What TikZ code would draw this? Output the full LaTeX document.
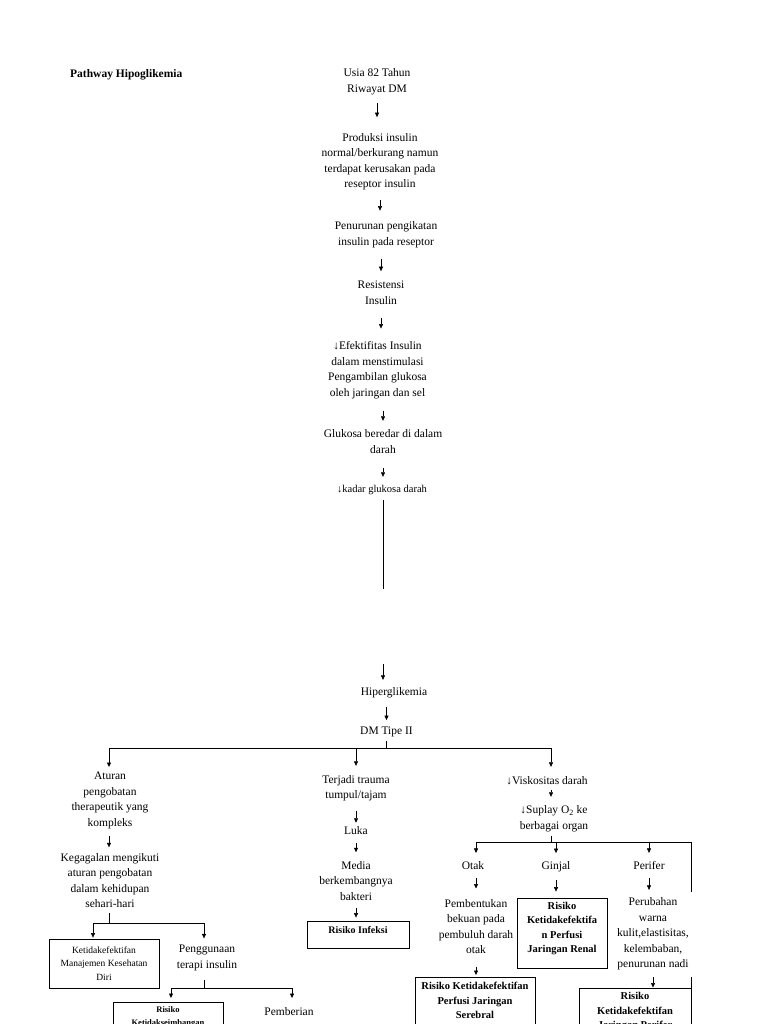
\documentclass[tikz,border=0pt]{standalone}
\usepackage{fontspec}
\setmainfont{Liberation Serif}
\usetikzlibrary{arrows.meta}
\tikzset{
  txt/.style={align=center, inner sep=0pt, font=\fontsize{11.5}{15.5}\selectfont},
  arr/.style={-{Triangle[length=4.5pt,width=4pt]}, line width=0.5pt},
  ln/.style={line width=0.8pt},
  boxn/.style={draw, line width=0.8pt, align=center, inner xsep=0pt},
  bsmall/.style={font=\fontsize{10.5}{14.5}\selectfont\bfseries},
}
\begin{document}
\begin{tikzpicture}[x=1pt,y=-1pt]
\path[use as bounding box, fill=white] (0,0) rectangle (768,1024);
\clip (0,0) rectangle (768,1024);

% ---------- title ----------
\node[txt, anchor=west, font=\fontsize{11.5}{15.5}\selectfont\bfseries] (title) at (70,75) {Pathway Hipoglikemia};

% ---------- main chain ----------
\node[txt] (usia) at (377,82) {Usia 82 Tahun\\Riwayat DM};
\node[txt] (prod) at (380,161.5) {Produksi insulin\\normal/berkurang namun\\terdapat kerusakan pada\\reseptor insulin};
\node[txt] (pen) at (386,234.5) {Penurunan pengikatan\\insulin pada reseptor};
\node[txt] (resist) at (381,292.7) {Resistensi\\Insulin};
\node[txt] (efek) at (377.5,370) {↓Efektifitas Insulin\\dalam menstimulasi\\Pengambilan glukosa\\oleh jaringan dan sel};
\node[txt] (gluk) at (383,441.5) {Glukosa beredar di dalam\\darah};
\node[txt, font=\fontsize{10.5}{14}\selectfont] (kadar) at (382,490) {↓kadar glukosa darah};
\node[txt] (hiper) at (394,693) {Hiperglikemia};
\node[txt] (dm) at (386.5,732) {DM Tipe II};

\coordinate (lineend) at (383,589);
\coordinate (arrstart) at (383,664);
\coordinate (s1) at (387,748);
\coordinate (hL) at (109,748);
\coordinate (hR) at (551,748);

% ---------- left column ----------
\node[txt] (aturan) at (110,800.5) {Aturan\\pengobatan\\therapeutik yang\\kompleks};
\node[txt] (kegagalan) at (110,880.5) {Kegagalan mengikuti\\aturan pengobatan\\dalam kehidupan\\sehari-hari};
\node[boxn, minimum width=110pt, minimum height=49pt, font=\fontsize{9.5}{13.5}\selectfont] (ketbox) at (104,963.5) {Ketidakefektifan\\Manajemen Kesehatan\\Diri};
\node[txt] (peng) at (207,958) {Penggunaan\\terapi insulin};
\node[boxn, anchor=north, minimum width=110pt, inner ysep=4pt, text depth=40pt, font=\fontsize{8.5}{13}\selectfont\bfseries] (rkbox) at (168,1002) {Risiko\\Ketidakseimbangan};
\node[txt] (pemberian) at (289,1012) {Pemberian};

\coordinate (s3) at (109,923);
\coordinate (kL) at (93,923);
\coordinate (kR) at (204,923);
\coordinate (s4) at (204,988);
\coordinate (pL) at (171,988);
\coordinate (pR) at (292,988);

% ---------- middle column ----------
\node[txt] (terjadi) at (356,788) {Terjadi trauma\\tumpul/tajam};
\node[txt] (luka) at (356,830.7) {Luka};
\node[txt] (media) at (356,880.7) {Media\\berkembangnya\\bakteri};
\node[boxn, minimum width=102pt, minimum height=27pt, text depth=10pt, font=\fontsize{10}{13}\selectfont\bfseries] (infeksi) at (358,934.5) {Risiko Infeksi};

% ---------- right column ----------
\node[txt] (visk) at (547,780.7) {↓Viskositas darah};
\node[txt] (suplay) at (554,818.5) {↓Suplay O\textsubscript{2} ke\\berbagai organ};
\coordinate (s2) at (551,842);
\coordinate (oL) at (476,842);
\coordinate (gC) at (556,842);
\coordinate (pC) at (649,842);
\coordinate (oR) at (691,842);
\coordinate (oRd) at (691,892);
\node[txt] (otak) at (473,865.7) {Otak};
\node[txt] (ginjal) at (556,867) {Ginjal};
\node[txt] (perifer) at (649,865.7) {Perifer};
\node[txt] (pemb) at (476,926.7) {Pembentukan\\bekuan pada\\pembuluh darah\\otak};
\node[boxn, bsmall, minimum width=90pt, minimum height=70pt, text depth=11pt] (renal) at (562,933) {Risiko\\Ketidakefektifa\\n Perfusi\\Jaringan Renal};
\node[txt] (perubahan) at (653,934) {Perubahan\\warna\\kulit,elastisitas,\\kelembaban,\\penurunan nadi};
\node[boxn, bsmall, anchor=north, minimum width=120pt, inner ysep=5pt, text depth=30pt] (sereb) at (475,977) {Risiko Ketidakefektifan\\Perfusi Jaringan\\Serebral};
\node[boxn, bsmall, anchor=north, minimum width=112pt, inner ysep=4.2pt, text depth=30pt] (perbox) at (635,988) {Risiko\\Ketidakefektifan\\Jaringan Perifer};

% ---------- connectors: main chain ----------
\draw[arr, shorten <=8pt, shorten >=15.7pt] (usia.south) -- (usia.south |- prod.north);
\draw[arr, shorten <=10pt, shorten >=10.7pt] (prod.south) -- (prod.south |- pen.north);
\draw[arr, shorten <=11pt, shorten >=9.7pt] (pen.south -| resist.north) -- (resist.north);
\draw[arr, shorten <=13.4pt, shorten >=12.7pt] (resist.south) -- (resist.south |- efek.north);
\draw[arr, shorten <=12pt, shorten >=8.7pt] (efek.south -| gluk.north) -- (gluk.north);
\draw[arr, shorten <=15pt, shorten >=8.2pt] (gluk.south) -- (gluk.south |- kadar.north);
\draw[ln, shorten <=5pt] (kadar.south -| lineend) -- (lineend);
\draw[arr, shorten >=7.7pt] (arrstart) -- (arrstart |- hiper.north);
\draw[arr, shorten <=9pt, shorten >=6.7pt] (hiper.south -| dm.north) -- (dm.north);
\draw[ln, shorten <=4pt] (dm.south) -- (dm.south |- s1);
\draw[ln] (hL) -- (hR);
\draw[arr, shorten >=5pt] (hL) -- (hL |- aturan.north);
\draw[arr, shorten >=9pt] (hL -| terjadi.north) -- (terjadi.north);
\draw[arr, shorten >=9.5pt] (hR) -- (hR |- visk.north);

% ---------- connectors: left ----------
\draw[arr, shorten <=7pt, shorten >=5.7pt] (aturan.south -| hL) -- (hL |- kegagalan.north);
\draw[ln, shorten <=5.4pt] (kegagalan.south -| s3) -- (s3);
\draw[ln] (kL) -- (kR);
\draw[arr, shorten >=1pt] (kL) -- (kL |- ketbox.north);
\draw[arr, shorten >=6.7pt] (kR) -- (kR |- peng.north);
\draw[ln, shorten <=9pt] (peng.south -| s4) -- (s4);
\draw[ln] (pL) -- (pR);
\draw[arr, shorten >=4pt] (pL) -- (pL |- rkbox.north);
\draw[arr, shorten >=9.7pt] (pR) -- (pR |- pemberian.north);

% ---------- connectors: middle ----------
\draw[arr, shorten <=9.4pt, shorten >=3.7pt] (terjadi.south) -- (terjadi.south |- luka.north);
\draw[arr, shorten <=8.4pt, shorten >=8.7pt] (luka.south) -- (luka.south |- media.north);
\draw[arr, shorten <=7.4pt, shorten >=3pt] (media.south) -- (media.south |- infeksi.north);

% ---------- connectors: right ----------
\draw[arr, shorten <=4.5pt, shorten >=8.5pt] (visk.south -| s2) -- (s2 |- suplay.north);
\draw[ln, shorten <=4pt] (suplay.south -| s2) -- (s2);
\draw[ln] (oL) -- (oR) -- (oRd);
\draw[arr, shorten >=8.5pt] (oL) -- (oL |- otak.north);
\draw[arr, shorten >=8.5pt] (gC) -- (gC |- ginjal.north);
\draw[arr, shorten >=8.5pt] (pC) -- (pC |- perifer.north);
\draw[arr, shorten <=8.4pt, shorten >=10.7pt] (otak.south -| pemb.north) -- (pemb.north);
\draw[arr, shorten <=8pt, shorten >=6pt] (ginjal.south) -- (ginjal.south |- renal.north);
\draw[arr, shorten <=8.4pt, shorten >=7.7pt] (perifer.south) -- (perifer.south |- perubahan.north);
\draw[arr, shorten <=12.4pt, shorten >=2pt] (pemb.south) -- (pemb.south |- sereb.north);
\draw[arr, shorten <=7pt, shorten >=0.5pt] (perubahan.south) -- (perubahan.south |- perbox.north);
\draw[ln] ([yshift=11pt]perbox.north east) -- (perbox.south east);
\end{tikzpicture}
\end{document}
